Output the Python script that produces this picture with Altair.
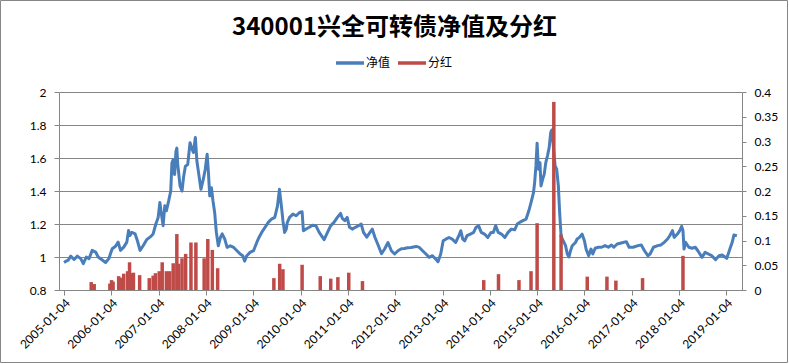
import altair as alt
import pandas as pd

# ---------------- data ----------------
nav_dates = [
    "2005-01-04", "2005-01-20", "2005-02-04", "2005-02-25", "2005-03-23", "2005-04-17", "2005-05-13",
    "2005-06-02", "2005-06-25", "2005-07-16", "2005-08-10", "2005-09-05", "2005-09-25", "2005-10-21",
    "2005-11-21", "2005-12-16", "2006-01-11", "2006-02-06", "2006-02-26", "2006-03-16", "2006-04-10",
    "2006-05-04", "2006-05-17", "2006-05-28", "2006-06-11", "2006-07-07", "2006-07-24", "2006-08-14",
    "2006-09-08", "2006-10-04", "2006-11-06", "2006-11-23", "2006-12-14", "2007-01-01", "2007-01-14",
    "2007-01-26", "2007-02-08", "2007-02-21", "2007-03-05", "2007-03-23", "2007-04-08", "2007-04-17",
    "2007-04-27", "2007-05-08", "2007-05-18", "2007-05-25", "2007-06-01", "2007-06-07", "2007-06-19",
    "2007-07-04", "2007-07-17", "2007-07-30", "2007-08-17", "2007-09-04", "2007-09-17", "2007-09-30",
    "2007-10-15", "2007-10-27", "2007-11-09", "2007-11-27", "2007-12-15", "2007-12-30", "2008-01-14",
    "2008-01-24", "2008-02-03", "2008-02-16", "2008-02-28", "2008-03-12", "2008-03-25", "2008-04-09",
    "2008-04-26", "2008-05-09", "2008-05-29", "2008-06-16", "2008-07-11", "2008-08-06", "2008-08-31",
    "2008-09-25", "2008-10-15", "2008-10-29", "2008-11-15", "2008-12-10", "2009-01-06", "2009-01-31",
    "2009-02-18", "2009-03-10", "2009-04-04", "2009-04-30", "2009-05-25", "2009-06-19", "2009-07-10",
    "2009-07-25", "2009-08-09", "2009-08-21", "2009-09-03", "2009-09-16", "2009-09-24", "2009-10-11",
    "2009-11-06", "2009-12-01", "2009-12-27", "2010-01-16", "2010-01-26", "2010-02-16", "2010-03-12",
    "2010-04-07", "2010-05-02", "2010-05-28", "2010-06-22", "2010-07-05", "2010-07-31", "2010-08-25",
    "2010-09-19", "2010-10-15", "2010-11-09", "2010-11-22", "2010-12-12", "2010-12-30", "2011-01-17",
    "2011-02-07", "2011-03-03", "2011-03-28", "2011-04-17", "2011-05-05", "2011-05-30", "2011-06-24",
    "2011-07-12", "2011-08-01", "2011-08-27", "2011-09-21", "2011-10-16", "2011-11-10", "2011-12-06",
    "2011-12-31", "2012-01-26", "2012-02-21", "2012-03-15", "2012-04-10", "2012-05-05", "2012-06-14",
    "2012-07-09", "2012-08-03", "2012-08-29", "2012-09-23", "2012-10-18", "2012-11-13", "2012-11-30",
    "2012-12-21", "2013-01-09", "2013-01-29", "2013-02-23", "2013-03-20", "2013-04-15", "2013-05-10",
    "2013-05-25", "2013-06-09", "2013-06-24", "2013-07-12", "2013-08-07", "2013-09-01", "2013-09-19",
    "2013-10-09", "2013-10-30", "2013-11-24", "2013-12-19", "2014-01-14", "2014-01-31", "2014-02-18",
    "2014-03-10", "2014-04-04", "2014-04-30", "2014-05-25", "2014-06-19", "2014-07-15", "2014-08-04",
    "2014-08-22", "2014-09-16", "2014-10-11", "2014-11-01", "2014-11-18", "2014-12-07", "2014-12-16",
    "2014-12-26", "2015-01-04", "2015-01-14", "2015-01-26", "2015-02-03", "2015-02-16", "2015-02-28",
    "2015-03-12", "2015-03-25", "2015-04-07", "2015-04-19", "2015-04-27", "2015-05-08", "2015-05-23",
    "2015-06-04", "2015-06-17", "2015-06-27", "2015-07-08", "2015-07-18", "2015-07-31", "2015-08-12",
    "2015-08-25", "2015-09-07", "2015-09-19", "2015-10-02", "2015-10-27", "2015-11-09", "2015-11-27",
    "2015-12-17", "2016-01-04", "2016-01-17", "2016-02-06", "2016-02-24", "2016-03-09", "2016-03-27",
    "2016-04-21", "2016-05-16", "2016-06-12", "2016-07-07", "2016-07-31", "2016-08-18", "2016-09-13",
    "2016-10-15", "2016-11-23", "2016-12-14", "2017-01-14", "2017-02-21", "2017-03-18", "2017-04-12",
    "2017-05-08", "2017-05-25", "2017-06-20", "2017-07-23", "2017-08-17", "2017-09-11", "2017-10-07",
    "2017-10-24", "2017-11-14", "2017-11-27", "2017-12-22", "2018-01-09", "2018-01-24", "2018-02-03",
    "2018-02-11", "2018-02-23", "2018-03-20", "2018-04-14", "2018-05-09", "2018-05-29", "2018-06-30",
    "2018-07-24", "2018-08-18", "2018-09-13", "2018-10-13", "2018-11-08", "2018-12-03", "2019-01-07",
    "2019-01-31", "2019-02-18", "2019-03-03", "2019-03-26",
]
nav_values = [
    0.967, 0.975, 0.98, 1.005, 0.985, 1.005, 0.99,
    0.96, 1.0, 0.99, 1.04, 1.03, 1.0, 0.985,
    0.967, 0.99, 1.05, 1.065, 1.09, 1.04, 1.06,
    1.09, 1.16, 1.13, 1.15, 1.14, 1.10, 1.04,
    1.07, 1.105, 1.125, 1.14, 1.2, 1.24, 1.33,
    1.26, 1.19, 1.31, 1.28, 1.34, 1.40, 1.57,
    1.59, 1.50, 1.64, 1.66, 1.56, 1.52, 1.43,
    1.40, 1.49, 1.55, 1.56, 1.693, 1.66, 1.633,
    1.724, 1.58, 1.51, 1.41, 1.47, 1.53, 1.623,
    1.51, 1.37, 1.42, 1.34, 1.27, 1.15, 1.068,
    1.12, 1.14, 1.108, 1.058, 1.068, 1.058, 1.038,
    1.018, 1.008, 0.975, 1.008, 1.028, 1.038, 1.088,
    1.12, 1.149, 1.179, 1.21, 1.23, 1.24, 1.31,
    1.41, 1.31, 1.22, 1.149, 1.169, 1.21, 1.24,
    1.26, 1.25, 1.27, 1.274, 1.159, 1.17, 1.18,
    1.193, 1.19, 1.149, 1.12, 1.105, 1.149, 1.19,
    1.21, 1.24, 1.264, 1.234, 1.22, 1.24, 1.18,
    1.169, 1.18, 1.19, 1.2, 1.149, 1.12, 1.149,
    1.169, 1.12, 1.07, 1.02, 1.05, 1.088, 1.038,
    1.018, 1.038, 1.05, 1.052, 1.056, 1.058, 1.064,
    1.058, 1.038, 1.018, 0.998, 1.008, 0.987, 0.971,
    1.018, 1.098, 1.108, 1.118, 1.108, 1.088, 1.129,
    1.159, 1.108, 1.098, 1.129, 1.139, 1.149, 1.179,
    1.19, 1.149, 1.139, 1.118, 1.149, 1.149, 1.19,
    1.149, 1.139, 1.118, 1.149, 1.169, 1.165, 1.2,
    1.21, 1.22, 1.23, 1.28, 1.33, 1.39, 1.451,
    1.552, 1.69, 1.532, 1.572, 1.431, 1.472, 1.502,
    1.572, 1.613, 1.663, 1.754, 1.77, 1.683, 1.552,
    1.532, 1.431, 1.27, 1.129, 1.108, 1.088, 1.068,
    1.018, 1.0, 1.038, 1.068, 1.088, 1.109, 1.119,
    1.139, 1.099, 1.048, 1.008, 1.048, 1.018, 1.053,
    1.059, 1.059, 1.069, 1.059, 1.073, 1.059, 1.079,
    1.085, 1.093, 1.059, 1.059, 1.069, 1.073, 1.038,
    1.008, 1.018, 1.059, 1.069, 1.073, 1.089, 1.109,
    1.129, 1.16, 1.119, 1.139, 1.16, 1.186, 1.16,
    1.048, 1.089, 1.059, 1.053, 1.059, 1.038, 0.998,
    1.028, 1.018, 1.008, 0.984, 1.008, 1.012, 0.992,
    1.048, 1.089, 1.133, 1.129,
]

div_dates = [
    "2005-08-02", "2005-08-25", "2005-12-24", "2006-01-06", "2006-01-18", "2006-03-02", "2006-03-20",
    "2006-04-10", "2006-05-10", "2006-05-25", "2006-06-11", "2006-06-24", "2006-08-11", "2006-10-24",
    "2006-11-23", "2006-12-11", "2007-01-09", "2007-02-01", "2007-03-05", "2007-03-31", "2007-04-27",
    "2007-05-25", "2007-06-07", "2007-07-04", "2007-08-01", "2007-09-11", "2007-10-19", "2007-12-22",
    "2008-01-19", "2008-02-23", "2008-04-04", "2009-06-12", "2009-07-27", "2009-08-21", "2010-01-16",
    "2010-06-05", "2010-08-25", "2010-10-19", "2011-01-11", "2011-04-27", "2013-11-18", "2014-03-12",
    "2014-08-17", "2014-11-18", "2015-01-04", "2015-05-13", "2015-07-08", "2016-01-26", "2016-06-26",
    "2016-09-03", "2017-03-28", "2018-02-03",
]
div_values = [
    0.016, 0.012, 0.013, 0.02, 0.017, 0.028, 0.025,
    0.033, 0.038, 0.056, 0.034, 0.035, 0.03, 0.024,
    0.029, 0.034, 0.038, 0.056, 0.038, 0.038, 0.054,
    0.113, 0.053, 0.064, 0.073, 0.096, 0.096, 0.064,
    0.103, 0.081, 0.044, 0.024, 0.053, 0.042, 0.051,
    0.028, 0.023, 0.026, 0.035, 0.018, 0.02, 0.032,
    0.02, 0.038, 0.135, 0.38, 0.112, 0.027, 0.027,
    0.019, 0.024, 0.069,
]

series_names = ["净值", "分红"]
series_colors = ["#4A7EBB", "#BE4B48"]
tick_years = list(range(2005, 2020))
left_ticks = [0.8, 1.0, 1.2, 1.4, 1.6, 1.8, 2.0]
right_ticks = [0, 0.05, 0.1, 0.15, 0.2, 0.25, 0.3, 0.35, 0.4]
title_text = "340001兴全可转债净值及分红"

nav_df = pd.DataFrame({"date": nav_dates, "value": nav_values, "series": series_names[0]})
div_df = pd.DataFrame({"date": div_dates, "value": div_values, "series": series_names[1]})

LATIN = "Lato"
CJK = "Noto Sans CJK SC"
GREY = "#868686"

x_enc = alt.X(
    "date:T",
    scale=alt.Scale(
        type="utc",
        domain=[alt.DateTime(year=2005, month=1, date=4, utc=True),
                alt.DateTime(year=2019, month=3, date=27, utc=True)],
    ),
    axis=alt.Axis(
        title=None,
        values=[alt.DateTime(year=y, month=1, date=4, utc=True) for y in tick_years],
        format="%Y-%m-%d",
        labelAngle=-45,
        labelFont=LATIN,
        labelFontSize=12,
        labelColor="#000000",
        domainColor=GREY,
        tickColor=GREY,
        tickSize=5,
        labelPadding=2,
        grid=False,
        labelOverlap=False,
    ),
)

color_enc = alt.Color(
    "series:N",
    scale=alt.Scale(domain=series_names, range=series_colors),
    legend=alt.Legend(
        title=None,
        orient="none",
        legendX=275,
        legendY=-45,
        direction="horizontal",
        columns=2,
        symbolType="stroke",
        symbolSize=784,
        symbolStrokeWidth=3.5,
        labelFont=CJK,
        labelFontSize=12,
        labelColor="#000000",
        labelOffset=0,
        columnPadding=0,
        padding=0,
    ),
)

line = alt.Chart(nav_df).mark_line(strokeWidth=3, strokeJoin="round").encode(
    x=x_enc,
    y=alt.Y(
        "value:Q",
        scale=alt.Scale(domain=[0.8, 2.0], nice=False, zero=False),
        axis=alt.Axis(
            title=None,
            orient="left",
            values=left_ticks,
            format="~g",
            labelFont=LATIN,
            labelFontSize=12,
            labelColor="#000000",
            domainColor=GREY,
            tickColor=GREY,
            tickSize=5,
            labelPadding=8,
            grid=True,
            gridColor=GREY,
            gridWidth=1,
        ),
    ),
    color=color_enc,
)

bars = alt.Chart(div_df).mark_bar(size=3.5).encode(
    x=x_enc,
    y=alt.Y(
        "value:Q",
        scale=alt.Scale(domain=[0, 0.4], nice=False),
        axis=alt.Axis(
            title=None,
            orient="right",
            values=right_ticks,
            format="~g",
            labelFont=LATIN,
            labelFontSize=12,
            labelColor="#000000",
            domainColor=GREY,
            tickColor=GREY,
            tickSize=4,
            labelPadding=8,
            grid=False,
        ),
    ),
    color=color_enc,
)

frame = alt.Chart(pd.DataFrame({"k": [0]})).mark_rect(
    fill=None, stroke=GREY, strokeWidth=1
).encode(
    x=alt.value(-58.5), x2=alt.value(728.5), y=alt.value(-91.5), y2=alt.value(270.5)
)

chart = (
    alt.layer(line, bars, frame)
    .resolve_scale(y="independent")
    .properties(
        width=683,
        height=198,
        autosize=alt.AutoSizeParams(type="none"),
        padding={"left": 59, "top": 92, "right": 47, "bottom": 74},
        background="#FFFFFF",
        title=alt.TitleParams(
            text=title_text,
            font=CJK,
            fontSize=24,
            fontWeight="bold",
            color="#000000",
            anchor="middle",
            frame="group",
            baseline="bottom",
            dx=-6,
            offset=-64,
        ),
    )
    .configure_view(stroke=None)
)

chart.save("out.html", embed_options={"renderer": "svg", "actions": False})
